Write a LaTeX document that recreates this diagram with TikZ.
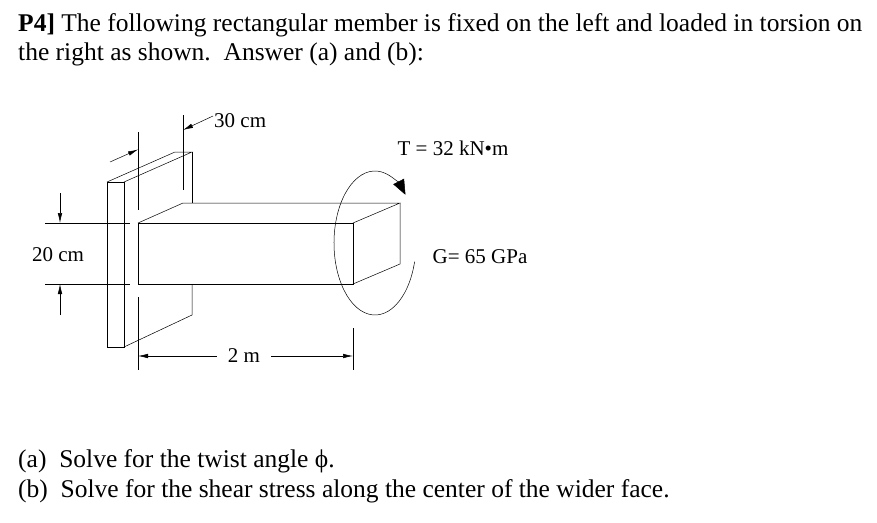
\documentclass[tikz,border=0pt]{standalone}
\usepackage{fontspec}
\setmainfont{Liberation Serif}
\usetikzlibrary{arrows.meta}
\begin{document}
\begin{tikzpicture}[x=1pt,y=-1pt,
  ln/.style={line width=0.8pt},
  thn/.style={line width=0.5pt},
  dim/.style={line width=0.5pt},
  arr/.style={-{Latex[length=10pt,width=4.5pt]}},
  lbl/.style={font=\fontsize{21}{24}\selectfont, inner sep=1pt},
  big/.style={font=\fontsize{25.5}{30}\selectfont, anchor=west, inner sep=0pt}]
\useasboundingbox (0,0) rectangle (877,522);
% title
\node[big] (t1) at (18,25) {\textbf{P4]} The following rectangular member is fixed on the left and loaded in torsion on};
\node[big] (t2) at (18,54) {the right as shown.\ \ Answer (a) and (b):};
\node[big] (qa) at (18,461) {(a)\ \ Solve for the twist angle ϕ.};
\node[big] (qb) at (18,491) {(b)\ \ Solve for the shear stress along the center of the wider face.};
% plate
\draw[thn] (107,182) rectangle (124,347);
\draw[thn] (107,182) -- (175,152) -- (192,152) -- (124,182);
\draw[thn] (192,152) -- (192,203);
\draw[thn] (192,284) -- (192,315) -- (124,347);
% beam
\draw[ln] (138,223) rectangle (353,284);
\draw[thn] (138,223) -- (183,203) -- (400,203) -- (353,223);
\draw[thn] (400,203) -- (400,264) -- (353,284);
% 30 cm dimension
\draw[dim] (138,132) -- (138,210);
\draw[dim] (183,115) -- (183,190);
\draw[dim,arr] (110,162) -- (138,149.5);
\draw[dim,arr] (213,116) -- (183,130);
\node[lbl,anchor=west] (l30) at (213,121) {30 cm};
% 20 cm
\draw[dim] (45,223) -- (130,223);
\draw[dim] (45,284) -- (130,284);
\draw[dim,arr] (60,193) -- (60,223);
\draw[dim,arr] (60,315) -- (60,284);
\node[lbl] (l20) at (58,255) {20 cm};
% 2 m
\draw[dim] (138,297) -- (138,370);
\draw[dim] (353,328) -- (353,370);
\node[lbl] (l2) at (244,356) {2 m};
\draw[dim,arr] (l2.west) ++(-10,0) -- (138,356);
\draw[dim,arr] (l2.east) ++(10,0) -- (353,356);
% torque
\draw[thn,-{Triangle[length=15pt,width=12pt]}] (375,243) ++(15:41 and 72) arc[start angle=15,end angle=318,x radius=41,y radius=72];
\node[lbl] (tq) at (453,148) {T = 32 kN•m};
\node[lbl] (gg) at (480,257) {G= 65 GPa};
\end{tikzpicture}
\end{document}
